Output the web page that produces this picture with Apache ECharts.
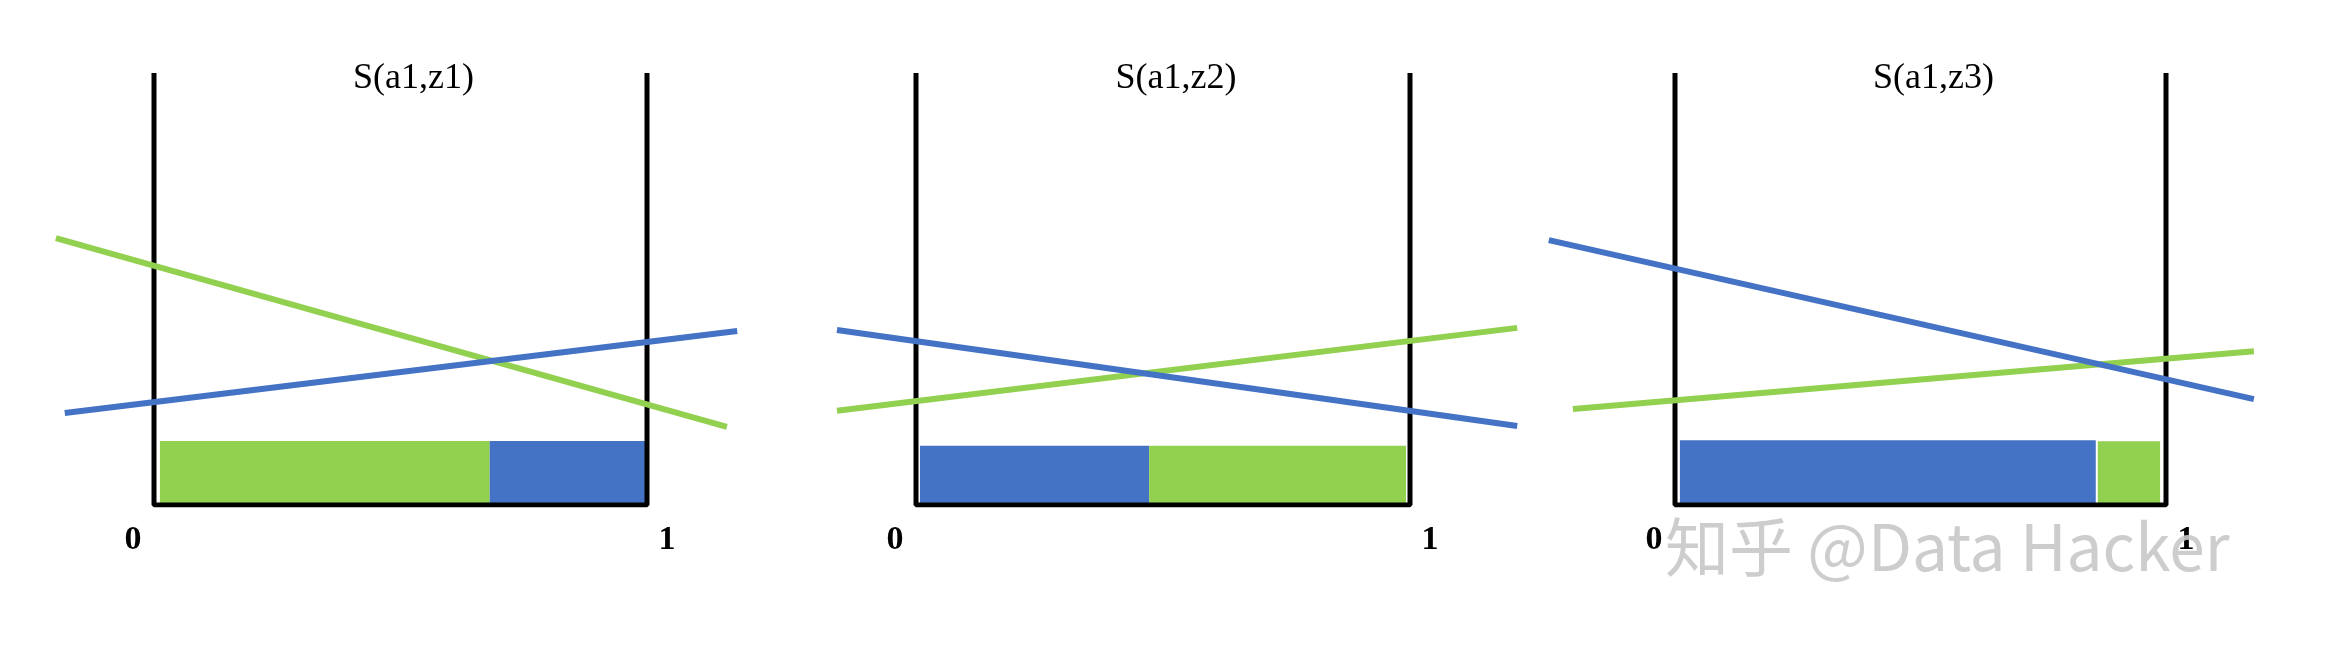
<!DOCTYPE html>
<html><head><meta charset="utf-8">
<script src="https://cdn.jsdelivr.net/npm/echarts@6/dist/echarts.min.js"></script>
<style>html,body{margin:0;padding:0;background:#fff}#c{width:2349px;height:650px}</style>
</head><body><div id="c"></div>
<script>
const titles = ['S(a1,z1)', 'S(a1,z2)', 'S(a1,z3)'];
const tickLabels = ['0', '1'];
// line endpoints [x, y] in axis units (x: 0..1 between walls, y: 0 bottom .. 1 top)
const greenLines = [
  [[-0.199, 0.618], [1.162, 0.181]],
  [[-0.16, 0.218], [1.217, 0.41]],
  [[-0.208, 0.222], [1.179, 0.356]]
];
const blueLines = [
  [[-0.181, 0.213], [1.183, 0.403]],
  [[-0.16, 0.405], [1.217, 0.183]],
  [[-0.257, 0.613], [1.179, 0.245]]
];
// bar segments [start, end, colorKey]
const barSegments = [
  [[0.012, 0.681, 'g'], [0.681, 1.0, 'b']],
  [[0.008, 0.472, 'b'], [0.472, 0.992, 'g']],
  [[0.01, 0.859, 'b'], [0.859, 0.99, 'g']]
];
const barHeights = [0.148, 0.137, 0.15];

const GREEN = '#92d050', BLUE = '#4472c4';
const wallLeft = [154, 916, 1675], wallW = [493, 494, 491];
const XMIN = -0.3, XMAX = 1.3;
const grids = [], xAxes = [], yAxes = [], series = [], titleComps = [];
for (let i = 0; i < 3; i++) {
  grids.push({left: wallLeft[i] + XMIN * wallW[i], width: (XMAX - XMIN) * wallW[i], top: 73, bottom: 145});
  xAxes.push({type: 'value', gridIndex: i, min: XMIN, max: XMAX, show: false});
  yAxes.push({type: 'value', gridIndex: i, min: 0, max: 1, show: false});
  titleComps.push({text: titles[i], left: wallLeft[i] + wallW[i] / 2 + 8, top: 56, textAlign: 'center',
    textStyle: {fontFamily: 'Liberation Serif', fontWeight: 'normal', fontSize: 36, color: '#000'}});
  series.push({type: 'line', xAxisIndex: i, yAxisIndex: i, data: barSegments[i].map(s => [s[0], 0]),
    symbol: 'none', lineStyle: {width: 0}, silent: true, z: 1,
    markArea: {silent: true, data: barSegments[i].map(s => [
      {xAxis: s[0], yAxis: 0, itemStyle: {color: s[2] === 'g' ? GREEN : BLUE, borderColor: i === 2 && s[2] === 'g' ? '#fff' : 'transparent', borderWidth: 2}},
      {xAxis: s[1], yAxis: barHeights[i]}])}});
  const lbl = (t, dx) => ({show: true, formatter: t, position: 'bottom', distance: 18, offset: [dx, 0],
    fontFamily: 'Liberation Serif', fontWeight: 'bold', fontSize: 34, color: '#000'});
  series.push({type: 'line', xAxisIndex: i, yAxisIndex: i, symbol: 'circle', symbolSize: 0.1, z: 2,
    lineStyle: {color: '#000', width: 5}, itemStyle: {color: '#000'},
    data: [{value: [0, 1]}, {value: [0, 0], label: lbl(tickLabels[0], -21)},
           {value: [1, 0], label: lbl(tickLabels[1], 20)}, {value: [1, 1]}]});
  series.push({type: 'line', xAxisIndex: i, yAxisIndex: i, data: greenLines[i], symbol: 'none',
    lineStyle: {color: GREEN, width: 6}, z: 3});
  series.push({type: 'line', xAxisIndex: i, yAxisIndex: i, data: blueLines[i], symbol: 'none',
    lineStyle: {color: BLUE, width: 6}, z: 3});
}
const chart = echarts.init(document.getElementById('c'));
chart.setOption({
  animation: false, backgroundColor: '#fff',
  title: titleComps, grid: grids, xAxis: xAxes, yAxis: yAxes, series: series,
  graphic: [{type: 'text', left: 1665, top: 515, z: 10,
    style: {text: '知乎 @Data Hacker', font: '64px "Noto Sans CJK SC"', fill: 'rgba(200,200,200,0.9)',
      shadowColor: 'rgba(90,90,90,0.6)', shadowOffsetX: 2, shadowOffsetY: 2, shadowBlur: 1}}]
});
</script></body></html>
